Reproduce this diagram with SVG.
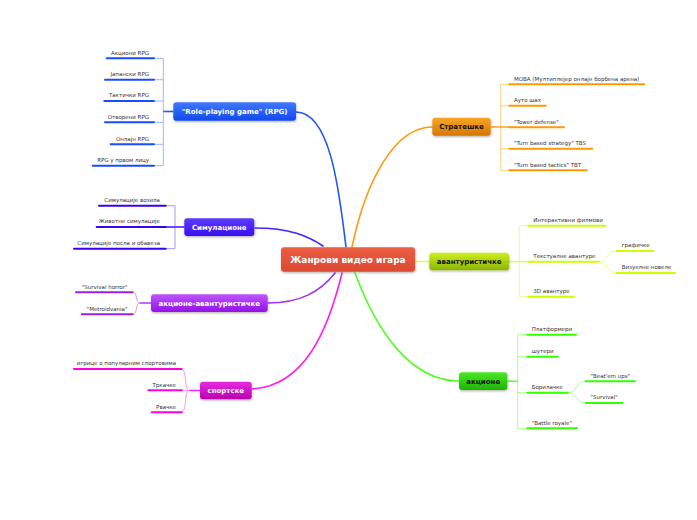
<svg xmlns="http://www.w3.org/2000/svg" width="697" height="520" viewBox="0 0 697 520">
<style>
.lt{font-family:"DejaVu Sans","Liberation Sans",sans-serif;font-size:5.5px;fill:#333}
.lr{text-anchor:end}
.nt{font-family:"DejaVu Sans","Liberation Sans",sans-serif;font-size:7px;font-weight:bold;text-anchor:middle}
.w{fill:#fff}.b{fill:#111}
.leaf{stroke-width:2;fill:none;stroke-linecap:round}
.con{stroke-width:1;fill:none}
.main{fill:none;stroke-width:1.6;stroke-linecap:round}
</style>
<defs>
<filter id="sh" x="-20%" y="-30%" width="140%" height="180%"><feDropShadow dx="0.5" dy="1.2" stdDeviation="1" flood-color="#000" flood-opacity="0.3"/></filter>
<linearGradient id="gc" x1="0" y1="0" x2="0" y2="1"><stop offset="0" stop-color="#ec5d42"/><stop offset="1" stop-color="#dc4a32"/></linearGradient>
<linearGradient id="g1" x1="0" y1="0" x2="0" y2="1"><stop offset="0" stop-color="#3f78ff"/><stop offset="1" stop-color="#1448ee"/></linearGradient>
<linearGradient id="g2" x1="0" y1="0" x2="0" y2="1"><stop offset="0" stop-color="#5d3cff"/><stop offset="1" stop-color="#3a0ff0"/></linearGradient>
<linearGradient id="g3" x1="0" y1="0" x2="0" y2="1"><stop offset="0" stop-color="#bd55ff"/><stop offset="1" stop-color="#9412e4"/></linearGradient>
<linearGradient id="g4" x1="0" y1="0" x2="0" y2="1"><stop offset="0" stop-color="#e82ce0"/><stop offset="1" stop-color="#b800ae"/></linearGradient>
<linearGradient id="g5" x1="0" y1="0" x2="0" y2="1"><stop offset="0" stop-color="#f8a628"/><stop offset="1" stop-color="#d67600"/></linearGradient>
<linearGradient id="g6" x1="0" y1="0" x2="0" y2="1"><stop offset="0" stop-color="#ccf020"/><stop offset="1" stop-color="#8cb400"/></linearGradient>
<linearGradient id="g7" x1="0" y1="0" x2="0" y2="1"><stop offset="0" stop-color="#4ce828"/><stop offset="1" stop-color="#1eb400"/></linearGradient>
</defs>
<rect width="697" height="520" fill="#fff"/>

<g id="connectors">
<!-- main curves -->
<path class="main" stroke="#2255ff" d="M296,112 C332,112 340,200 346,247"/>
<path class="main" stroke="#4422ff" d="M255,228 C290,228 308,236 323,246"/>
<path class="main" stroke="#a030ff" d="M268,303 C300,303 320,292 335,273"/>
<path class="main" stroke="#ff20ee" d="M252,389 C305,386 328,330 342,273"/>
<path class="main" stroke="#ff9a10" d="M432,127 C395,127 366,180 352,247"/>
<path class="main" stroke="#d8ff40" d="M414,261.5 L429,261.5"/>
<path class="main" stroke="#50ff20" d="M459,381 C410,381 376,330 355,273"/>

<!-- RPG -->
<path class="con" stroke="#9fb4ff" d="M163.3,58.3 V165.7 M154,58.3 H163.3 M154,79.7 H163.3 M154,101 H163.3 M154,122.3 H163.3 M154,144.3 H163.3 M154,165.7 H163.3"/>
<path stroke="#2255ff" stroke-width="1.6" d="M163.3,111.5 H173.5"/>
<!-- Simulation -->
<path class="con" stroke="#a898ff" d="M175,205.7 V248.7 M165.7,205.7 H175 M165.7,248.7 H175"/>
<path stroke="#4422ff" stroke-width="1.6" d="M165.7,227 H184.5"/>
<!-- Action-adventure -->
<path class="con" stroke="#cf9cf8" d="M140,303 C135,303 138,292.3 132.7,292.3 M140,303 C135,303 138,314.3 132.7,314.3"/>
<path stroke="#a030ff" stroke-width="1.4" d="M140,303 H151"/>
<!-- Sports -->
<path class="con" stroke="#ff96f0" d="M189,390.5 C184,390.5 187,369 181.7,369 M189,390.5 C185,390.5 186,390.3 181.7,390.3 M189,390.5 C184,390.5 187,412.3 181.7,412.3"/>
<path stroke="#ff20ee" stroke-width="1.4" d="M189,390.5 H200"/>
<!-- Strategy -->
<path class="con" stroke="#ffd080" d="M500.7,84.3 V170.3 M500.7,84.3 H509.3 M500.7,105.7 H509.3 M500.7,148.7 H509.3 M500.7,170.3 H509.3"/>
<path stroke="#ff9a10" stroke-width="1.4" d="M490.7,127 H509.3"/>
<!-- Adventure -->
<path class="con" stroke="#e4ff90" d="M519.3,225.7 V296.7 M519.3,225.7 H528.3 M519.3,296.7 H528.3"/>
<path stroke="#d8ff40" stroke-width="1.4" d="M509,261.6 H528.3"/>
<path class="con" stroke="#e4ff90" d="M598.3,261.7 C608,261.7 606,251 616.7,251 M598.3,261.7 C608,261.7 606,273 616.7,273"/>
<!-- Action -->
<path class="con" stroke="#a8ff90" d="M517.7,334.7 V428.3 M517.7,334.7 H527.3 M517.7,356.7 H527.3 M517.7,392.7 H527.3 M517.7,428.3 H527.3"/>
<path stroke="#50ff20" stroke-width="1.4" d="M507.3,381.2 H517.7"/>
<path class="con" stroke="#a8ff90" d="M567.7,392.7 C578,392.7 575,381.3 585.7,381.3 M567.7,392.7 C578,392.7 575,403 585.7,403"/>
</g>

<g id="center">
<rect x="281" y="247.3" width="134" height="24.4" rx="3" fill="url(#gc)" filter="url(#sh)"/>
<text class="nt w" x="348" y="262.8" style="font-size:9px">Жанрови видео игара</text>
</g>

<g id="rpg">
<rect x="173.3" y="102.3" width="122.7" height="18.4" rx="3" fill="url(#g1)" filter="url(#sh)"/>
<text class="nt w" x="234.6" y="114">"Role-playing game" (RPG)</text>
<g class="leaf" stroke="#1a4cff">
<path d="M106.7,58.3 H154 M105,79.7 H154 M104.3,101 H154 M105,122.3 H154 M110.7,144.3 H154 M92.7,165.7 H154"/>
</g>
<text class="lt lr" x="149" y="54.5">Акциони RPG</text>
<text class="lt lr" x="149" y="75.9">Јапански RPG</text>
<text class="lt lr" x="149" y="97.2">Тактички RPG</text>
<text class="lt lr" x="149" y="118.5">Отворени RPG</text>
<text class="lt lr" x="149" y="140.5">Онлајн RPG</text>
<text class="lt lr" x="149" y="161.9">RPG у првом лицу</text>
</g>

<g id="simulation">
<rect x="184.3" y="218.3" width="70" height="17.7" rx="3" fill="url(#g2)" filter="url(#sh)"/>
<text class="nt w" x="219.3" y="229.6">Симулационе</text>
<path class="leaf" stroke="#3a00f0" d="M99,205.7 H165.7 M96.7,227 H165.7 M74,248.7 H165.7"/>
<text class="lt lr" x="160" y="201.9">Симулације возила</text>
<text class="lt lr" x="160" y="223.2">Животне симулације</text>
<text class="lt lr" x="160" y="244.9">Симулације посла и обавеза</text>
</g>

<g id="action-adventure">
<rect x="151" y="294.3" width="116.7" height="17.7" rx="3" fill="url(#g3)" filter="url(#sh)"/>
<text class="nt w" x="209.3" y="305.6">акционе-авантуристичке</text>
<path class="leaf" stroke="#9a20e8" d="M76,292.3 H132.7 M81.7,314.3 H132.7"/>
<text class="lt lr" x="127.5" y="288.5">"Survival horror"</text>
<text class="lt lr" x="127.5" y="310.5">"Metroidvania"</text>
</g>

<g id="sports">
<rect x="200" y="381.7" width="51.7" height="17.5" rx="3" fill="url(#g4)" filter="url(#sh)"/>
<text class="nt w" x="225.8" y="392.9">спортске</text>
<path class="leaf" stroke="#ff00e0" d="M74,369 H181.7 M148.3,390.3 H181.7 M151.7,412.3 H181.7"/>
<text class="lt lr" x="176" y="365.2">игрице о популарним спортовима</text>
<text class="lt lr" x="176" y="386.5">Тркачке</text>
<text class="lt lr" x="176" y="408.5">Рвачке</text>
</g>

<g id="strategy">
<rect x="432.3" y="117.7" width="58.4" height="18" rx="3" fill="url(#g5)" filter="url(#sh)"/>
<text class="nt b" x="461.5" y="129.2">Стратешке</text>
<path class="leaf" stroke="#ff9a00" d="M509.3,84.3 H644.3 M509.3,105.7 H545.7 M509.3,127.3 H564 M509.3,148.7 H592.3 M509.3,170.3 H586.7"/>
<text class="lt" x="514" y="80.5">MOBA (Мултиплејер онлајн борбена арена)</text>
<text class="lt" x="514" y="101.9">Ауто шах</text>
<text class="lt" x="514" y="123.5">"Tower defense"</text>
<text class="lt" x="514" y="144.9">"Turn based strategy" TBS</text>
<text class="lt" x="514" y="166.5">"Turn based tactics" TBT</text>
</g>

<g id="adventure">
<rect x="429.3" y="252.7" width="79.7" height="17.6" rx="3" fill="url(#g6)" filter="url(#sh)"/>
<text class="nt b" x="469.2" y="264">авантуристичке</text>
<path class="leaf" stroke="#ccff00" d="M528.3,225.7 H605.7 M528.3,261.7 H598.3 M528.3,296.7 H574 M616.7,251 H653.3 M616.7,273 H675"/>
<text class="lt" x="533.3" y="221.9">Интерактивни филмови</text>
<text class="lt" x="533.3" y="257.9">Текстуалне авантуре</text>
<text class="lt" x="533.3" y="292.9">3D авантуре</text>
<text class="lt" x="621.7" y="247.2">графичке</text>
<text class="lt" x="621.7" y="269.2">Визуелне новеле</text>
</g>

<g id="action">
<rect x="459" y="372.3" width="48.3" height="17.7" rx="3" fill="url(#g7)" filter="url(#sh)"/>
<text class="nt b" x="483.2" y="383.6">акционе</text>
<path class="leaf" stroke="#33ff00" d="M527.3,334.7 H576 M527.3,356.7 H557.7 M527.3,392.7 H567.7 M527.3,428.3 H577 M585.7,381.3 H635 M585.7,403 H622.7"/>
<text class="lt" x="531.7" y="330.9">Платформери</text>
<text class="lt" x="531.7" y="352.9">шутери</text>
<text class="lt" x="531.7" y="388.9">Борилачке</text>
<text class="lt" x="531.7" y="424.5">"Battle royale"</text>
<text class="lt" x="590.5" y="377.5">"Beat'em ups"</text>
<text class="lt" x="590.5" y="399.2">"Survival"</text>
</g>
</svg>
